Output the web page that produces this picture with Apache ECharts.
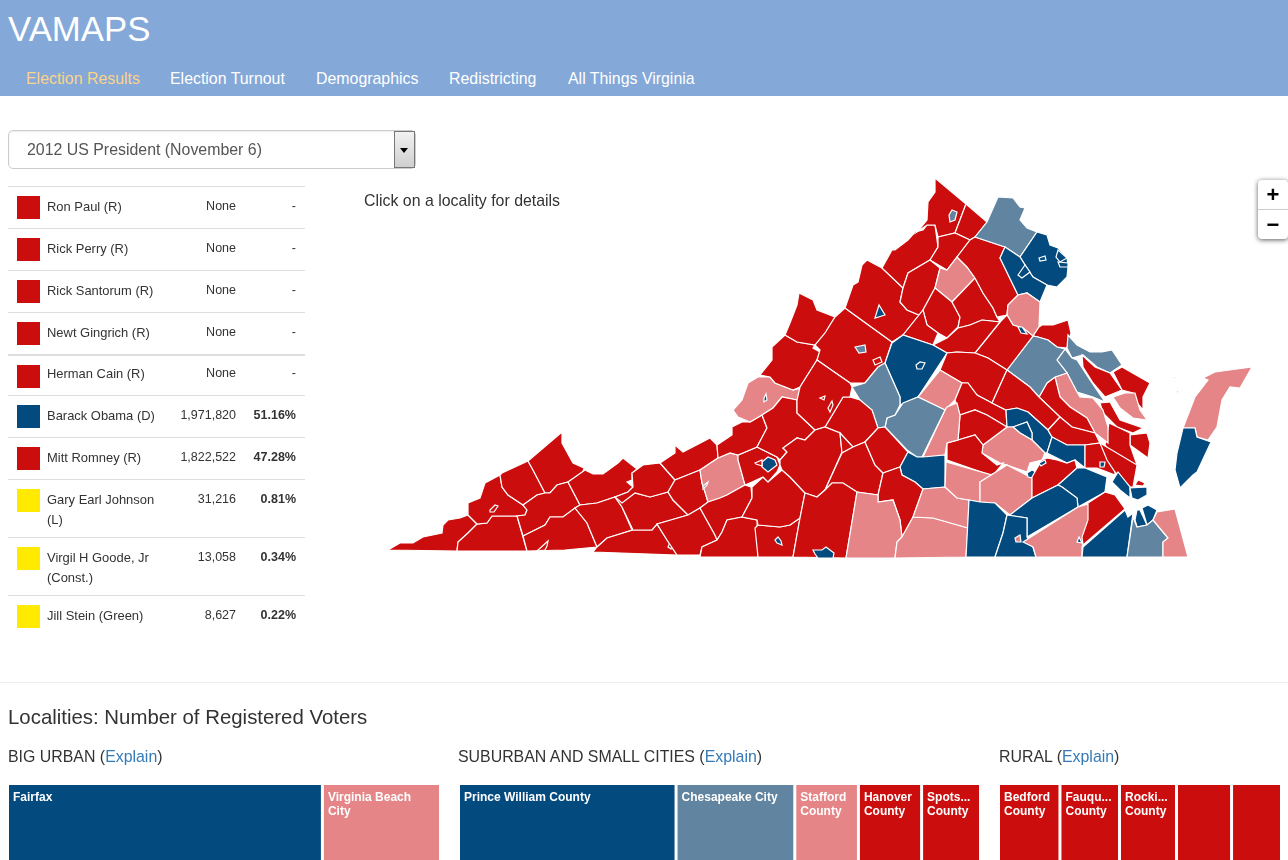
<!DOCTYPE html>
<html>
<head>
<meta charset="utf-8">
<title>VAMAPS</title>
<script src="https://cdn.jsdelivr.net/npm/echarts@6/dist/echarts.min.js"></script>
<style>
  * { box-sizing: border-box; }
  html, body { margin: 0; padding: 0; width: 1288px; height: 860px; overflow: hidden; background: #fff;
    font-family: "Liberation Sans", Arial, sans-serif; color: #333; }
  #chart { position: absolute; left: 0; top: 0; width: 1288px; height: 860px; }
  .abs { position: absolute; white-space: nowrap; }
  #header { position: absolute; left: 0; top: 0; width: 1288px; height: 96px; background: #84a8d8; }
  #title { left: 8px; top: 8px; font-size: 34.8px; line-height: 42px; color: #fff; }
  .nav { top: 69px; font-size: 15.9px; line-height: 20px; color: #fff; }
  .nav.active { color: #fbd38a; }
  #select { position: absolute; left: 8px; top: 130px; width: 408px; height: 39px; border: 1px solid #ccc; border-radius: 5px;
    font-size: 15.9px; line-height: 37px; padding-left: 18px; color: #555; box-shadow: inset 0 1px 2px rgba(0,0,0,.08); }
  #selectBtn { position: absolute; right: 0; top: 0; width: 21px; height: 37px; border: 1px solid #777;
    background: linear-gradient(#f2f2f2, #cfcfcf); }
  #selectBtn:after { content: ""; position: absolute; left: 5px; top: 16px; border: 4px solid transparent; border-top: 5px solid #000; border-bottom: 0; }
  #results { position: absolute; left: 8px; top: 186px; width: 297px; border-collapse: collapse; font-size: 12.95px; table-layout: fixed; }
  #results td { border-top: 1px solid #ddd; padding: 10px 0 0 0; vertical-align: top; line-height: 19.5px; color: #333; }
  #results tr.thick td { border-top: 2px solid #ddd; padding-top: 8px; }
  .swatch { display: block; width: 23px; height: 23px; margin: 0 0 0 9px; }
  td.votes { text-align: right; padding-right: 1px !important; font-size: 12.5px; }
  td.pct { text-align: right; font-weight: bold; padding-right: 9px !important; font-size: 12.5px; }
  #zoomCtl { position: absolute; left: 1258px; top: 180px; width: 30px; height: 59px; background: #fff; border-radius: 4px;
    box-shadow: 0 1px 5px rgba(0,0,0,.65); text-align: center; font-weight: bold; color: #000; font-size: 22px; line-height: 29px; }
  #zoomCtl div + div { border-top: 1px solid #ccc; }
  #rule { position: absolute; left: 0; top: 682px; width: 1288px; height: 1px; background: #eee; }
  a { color: #337ab7; text-decoration: none; }
</style>
</head>
<body>
<div id="chart"></div>
<div id="header"></div>
<div id="nav"></div>
<div id="select">2012 US President (November 6)<div id="selectBtn"></div></div>
<table id="results"></table>
<div class="abs" style="left:364px;top:191px;font-size:15.9px;line-height:20px;">Click on a locality for details</div>
<div id="zoomCtl"><div>+</div><div>−</div></div>
<div id="rule"></div>
<div class="abs" style="left:8px;top:705px;font-size:20.4px;line-height:24px;">Localities: Number of Registered Voters</div>
<div id="groupHeads"></div>

<script>
const pageTitle = 'VAMAPS';
const navItems = ['Election Results', 'Election Turnout', 'Demographics', 'Redistricting', 'All Things Virginia'];

// statewide results
const candidates = ['Ron Paul (R)', 'Rick Perry (R)', 'Rick Santorum (R)', 'Newt Gingrich (R)', 'Herman Cain (R)',
  'Barack Obama (D)', 'Mitt Romney (R)', 'Gary Earl Johnson (L)', 'Virgil H Goode, Jr (Const.)', 'Jill Stein (Green)'];
const candidateParty = ['R', 'R', 'R', 'R', 'R', 'D', 'R', 'O', 'O', 'O'];
const candidateVotes = ['None', 'None', 'None', 'None', 'None', '1,971,820', '1,822,522', '31,216', '13,058', '8,627'];
const candidatePct = ['-', '-', '-', '-', '-', '51.16%', '47.28%', '0.81%', '0.34%', '0.22%'];

// treemaps: registered voters by locality (estimated from tile widths)
const groupTitles = ['BIG URBAN', 'SUBURBAN AND SMALL CITIES', 'RURAL'];
const urbanNames = ['Fairfax', 'Virginia Beach City'];
const urbanLabels = ['Fairfax', 'Virginia Beach\nCity'];
const urbanVoters = [672000, 252000];
const urbanLean = ['D', 'r'];
const suburbNames = ['Prince William County', 'Chesapeake City', 'Stafford County', 'Hanover County', 'Spotsylvania County'];
const suburbLabels = ['Prince William County', 'Chesapeake City', 'Stafford\nCounty', 'Hanover\nCounty', 'Spots...\nCounty'];
const suburbVoters = [229000, 125000, 67000, 66500, 62000];
const suburbLean = ['D', 'd', 'r', 'R', 'R'];
const ruralNames = ['Bedford County', 'Fauquier County', 'Rockingham County', 'Augusta County', 'Frederick County'];
const ruralLabels = ['Bedford\nCounty', 'Fauqu...\nCounty', 'Rocki...\nCounty', '', ''];
const ruralVoters = [48000, 46500, 44500, 43000, 39000];
const ruralLean = ['R', 'R', 'R', 'R', 'R'];

// 2012 winner and margin of each locality
const strongRepublican = ['Lee', 'Scott', 'Wise', 'Norton', 'Dickenson', 'Buchanan', 'Russell', 'Washington', 'Bristol', 'Tazewell', 'Smyth',
  'Grayson', 'Galax', 'Wythe', 'Bland', 'Giles', 'Pulaski', 'Carroll', 'Floyd', 'Patrick', 'Henry', 'Franklin', 'Roanoke County', 'Salem',
  'Craig', 'Botetourt', 'Bath', 'Highland', 'Augusta', 'Waynesboro', 'Rockingham', 'Shenandoah', 'Frederick', 'Clarke', 'Warren', 'Page',
  'Madison', 'Culpeper', 'Fauquier', 'King George', 'Richmond County', 'Northumberland', 'Middlesex', 'Mathews', 'Gloucester',
  'King William', 'Spotsylvania', 'Orange', 'Greene', 'Louisa', 'Goochland', 'Hanover', 'New Kent', 'James City', 'York', 'Poquoson',
  'Powhatan', 'Amelia', 'Amherst', 'Rockbridge', 'Buena Vista', 'Lexington', 'Bedford', 'Lynchburg', 'Campbell', 'Appomattox', 'Charlotte',
  'Pittsylvania', 'Prince George', 'Isle of Wight'];
const leanRepublican = ['Montgomery', 'Alleghany', 'Rappahannock', 'Stafford', 'Lancaster', 'King and Queen', 'Chesterfield', 'Cumberland',
  'Fluvanna', 'Halifax', 'Mecklenburg', 'Lunenburg', 'Nottoway', 'Dinwiddie', 'Emporia', 'Southampton', 'Virginia Beach', 'Accomack', 'Tangier', 'Saxis'];
const leanDemocrat = ['Radford', 'Staunton', 'Winchester', 'Loudoun', 'Westmoreland', 'Essex', 'Caroline', 'Buckingham', 'Nelson', 'Chesapeake'];
const strongDemocrat = ['Roanoke City', 'Covington', 'Martinsville', 'Danville', 'Harrisonburg', 'Fairfax', 'Prince William', 'Manassas', 'Fairfax City',
  'Arlington', 'Alexandria', 'Fredericksburg', 'Albemarle', 'Charlottesville', 'Henrico', 'Richmond City', 'Charles City', 'Williamsburg',
  'Newport News', 'Hampton', 'Petersburg', 'Colonial Heights', 'Prince Edward', 'Surry', 'Sussex', 'Brunswick', 'Greensville', 'Franklin City',
  'Suffolk', 'Portsmouth', 'Norfolk', 'Northampton'];

// locality outlines, in map units; cities listed after the county that surrounds them
const localityOutlines = {
  'Lee': [[388,550],[400,543],[413,543],[423,537],[442,533],[443,525],[448,520],[460,518],[468,515],[477,524],[468,533],[458,542],[457,551]],
  'Scott': [[457,551],[458,542],[468,533],[477,524],[487,523],[492,516],[517,516],[527,551]],
  'Wise': [[468,515],[468,503],[480,498],[485,483],[500,475],[502,487],[508,495],[523,505],[527,510],[525,515],[517,516],[492,516],[487,523],[477,524]],
  'Norton': [[490,510],[495,505],[498,506],[494,512],[490,512]],
  'Dickenson': [[500,475],[502,473],[528,461],[533,470],[545,493],[537,495],[523,505],[508,495],[502,487]],
  'Buchanan': [[528,461],[562,432],[563,433],[562,443],[573,463],[584,468],[583,472],[568,482],[557,485],[550,493],[545,493],[533,470]],
  'Russell': [[523,505],[537,495],[545,493],[550,493],[557,485],[568,482],[580,505],[575,508],[563,517],[550,517],[545,525],[523,536],[517,516],[525,515],[527,510]],
  'Washington': [[523,536],[545,525],[550,517],[563,517],[575,508],[587,523],[597,547],[565,550],[527,551]],
  'Bristol': [[537,551],[548,541],[547,546],[545,550]],
  'Tazewell': [[568,482],[585,470],[593,474],[603,474],[618,463],[623,458],[637,469],[632,473],[632,480],[627,482],[633,487],[628,492],[615,497],[597,503],[580,505]],
  'Smyth': [[575,508],[580,505],[597,503],[615,497],[622,507],[632,530],[607,538],[597,547],[587,523]],
  'Grayson': [[593,552],[597,547],[607,538],[633,530],[652,530],[657,524],[667,540],[677,555]],
  'Galax': [[668,547],[671,540],[673,541],[671,549]],
  'Wythe': [[615,497],[635,493],[650,497],[668,492],[673,500],[688,515],[657,524],[652,530],[633,530],[622,507]],
  'Bland': [[633,487],[632,473],[643,465],[660,463],[675,480],[668,492],[650,497],[635,493],[622,503],[615,497],[628,492]],
  'Giles': [[660,463],[675,453],[675,445],[683,452],[710,438],[717,445],[718,458],[700,470],[675,480]],
  'Pulaski': [[668,492],[675,480],[700,470],[702,483],[705,492],[708,502],[700,508],[688,515],[673,500]],
  'Montgomery': [[700,470],[718,458],[730,453],[738,455],[738,460],[745,485],[727,495],[720,498],[708,502],[705,492],[702,483]],
  'Radford': [[703,486],[708,482],[707,485],[703,489]],
  'Carroll': [[688,515],[700,508],[715,535],[717,540],[702,547],[700,555],[677,555],[667,540],[657,524]],
  'Floyd': [[700,508],[708,502],[720,498],[727,495],[745,485],[751,487],[752,498],[742,517],[727,520],[722,532],[717,540],[715,535]],
  'Patrick': [[700,557],[702,547],[717,540],[722,532],[727,520],[742,517],[757,520],[758,557]],
  'Henry': [[758,557],[755,528],[758,525],[780,527],[790,525],[800,518],[793,557]],
  'Martinsville': [[775,540],[778,537],[781,541],[782,545],[777,543]],
  'Franklin': [[752,487],[763,477],[768,482],[782,470],[790,477],[805,493],[800,518],[790,525],[780,527],[758,525],[757,520],[742,517],[752,498]],
  'Roanoke County': [[738,455],[757,447],[777,457],[780,465],[777,472],[768,482],[763,477],[752,482],[745,485],[738,460]],
  'Roanoke City': [[762,462],[768,457],[775,460],[777,465],[768,472],[762,467]],
  'Salem': [[755,463],[762,460],[762,466],[756,464]],
  'Craig': [[717,445],[732,435],[732,427],[742,422],[750,422],[762,415],[767,428],[757,447],[738,455],[730,453],[718,458]],
  'Alleghany': [[733,410],[742,400],[748,383],[758,377],[770,377],[775,383],[793,390],[803,388],[797,400],[782,397],[773,408],[762,415],[750,422],[738,417]],
  'Covington': [[764,398],[766,394],[767,400],[764,402]],
  'Botetourt': [[762,415],[773,408],[782,397],[797,400],[797,413],[815,430],[805,440],[797,438],[783,448],[787,452],[780,460],[777,457],[757,447],[767,428]],
  'Bath': [[760,375],[772,360],[772,347],[785,335],[797,342],[815,345],[813,348],[820,352],[817,360],[800,387],[793,390],[775,383],[770,377]],
  'Highland': [[785,335],[790,323],[797,305],[799,293],[813,300],[817,310],[835,317],[827,330],[825,338],[815,345],[797,342]],
  'Augusta': [[845,308],[892,342],[885,363],[878,367],[865,383],[850,383],[817,360],[820,350],[815,345],[825,333],[835,317]],
  'Staunton': [[855,347],[865,345],[866,352],[859,353]],
  'Waynesboro': [[873,360],[880,357],[882,362],[875,365]],
  'Rockingham': [[845,308],[853,285],[858,282],[862,265],[867,260],[882,268],[903,288],[900,302],[907,310],[919,315],[903,335],[892,342]],
  'Harrisonburg': [[875,318],[879,305],[885,315]],
  'Shenandoah': [[882,268],[892,250],[895,250],[908,240],[915,232],[923,230],[927,225],[935,225],[938,247],[930,260],[908,273],[903,288]],
  'Frederick': [[917,232],[927,220],[928,202],[935,192],[935,178],[966,204],[955,233],[938,237],[935,225],[927,225]],
  'Winchester': [[949,215],[952,210],[957,212],[955,220],[950,222]],
  'Clarke': [[966,204],[987,222],[975,237],[970,240],[955,233]],
  'Warren': [[938,237],[955,233],[970,240],[957,257],[947,270],[930,260],[938,247]],
  'Page': [[908,273],[930,260],[940,268],[935,288],[923,310],[919,315],[907,310],[900,302],[903,288]],
  'Rappahannock': [[940,268],[947,270],[957,257],[967,267],[975,278],[952,302],[935,288]],
  'Madison': [[923,310],[935,288],[952,302],[960,317],[958,327],[947,338],[938,333],[927,325]],
  'Culpeper': [[952,302],[975,278],[983,293],[993,308],[997,317],[1000,322],[982,320],[970,325],[958,328],[960,317]],
  'Fauquier': [[957,257],[970,240],[975,237],[1005,247],[1000,258],[1018,295],[1008,305],[1007,315],[997,317],[993,308],[983,293],[975,278],[967,267]],
  'Loudoun': [[975,237],[987,222],[998,197],[1013,198],[1020,207],[1025,208],[1020,220],[1027,228],[1037,232],[1020,257],[1005,247]],
  'Fairfax': [[1037,232],[1047,235],[1050,245],[1058,248],[1067,257],[1068,267],[1067,277],[1057,287],[1047,285],[1033,277],[1027,268],[1020,257]],
  'Prince William': [[1005,247],[1020,257],[1027,268],[1033,277],[1047,285],[1040,302],[1027,293],[1018,295],[1000,258]],
  'Manassas': [[1018,275],[1025,265],[1030,272],[1022,278]],
  'Fairfax City': [[1039,258],[1045,256],[1046,260],[1040,261]],
  'Arlington': [[1058,250],[1067,258],[1060,262],[1056,257]],
  'Alexandria': [[1058,262],[1068,263],[1068,267],[1060,267]],
  'Stafford': [[1018,295],[1027,293],[1040,302],[1039,327],[1033,336],[1023,328],[1013,325],[1007,315],[1008,305]],
  'King George': [[1033,336],[1039,327],[1042,325],[1053,325],[1068,320],[1071,333],[1067,348],[1057,347],[1048,340],[1038,337]],
  'Westmoreland': [[1068,335],[1077,345],[1090,352],[1102,352],[1112,350],[1122,365],[1110,373],[1097,367],[1083,355],[1072,358],[1067,348]],
  'Richmond County': [[1082,355],[1095,367],[1110,373],[1122,390],[1105,397],[1093,383],[1083,367]],
  'Northumberland': [[1113,372],[1122,367],[1150,383],[1143,397],[1143,410],[1137,403],[1133,393],[1122,390]],
  'Lancaster': [[1113,397],[1125,393],[1135,393],[1140,410],[1147,420],[1133,418],[1120,408]],
  'Middlesex': [[1100,403],[1110,402],[1120,420],[1143,428],[1133,433],[1117,427],[1103,413]],
  'Mathews': [[1130,435],[1147,433],[1150,443],[1148,458],[1130,445]],
  'Gloucester': [[1109,423],[1130,433],[1130,445],[1137,465],[1123,467],[1105,445]],
  'Essex': [[1057,360],[1065,349],[1072,358],[1077,360],[1090,380],[1105,402],[1093,397],[1077,392],[1067,373]],
  'King and Queen': [[1055,377],[1067,373],[1077,392],[1080,397],[1093,398],[1103,410],[1108,427],[1108,443],[1095,433],[1087,418],[1070,407],[1060,397]],
  'King William': [[1039,397],[1047,383],[1055,377],[1060,397],[1070,407],[1087,418],[1095,433],[1072,427],[1060,417]],
  'Caroline': [[1007,370],[1033,336],[1038,337],[1048,340],[1057,347],[1065,349],[1057,360],[1067,373],[1055,377],[1047,383],[1039,397],[1030,387]],
  'Spotsylvania': [[975,353],[1000,322],[1007,315],[1013,325],[1023,328],[1033,336],[1007,370],[988,358]],
  'Fredericksburg': [[1018,327],[1022,327],[1027,334],[1021,333]],
  'Orange': [[933,345],[947,338],[958,328],[970,325],[982,320],[1000,322],[975,353],[957,352],[947,353]],
  'Greene': [[903,335],[919,315],[923,310],[927,325],[938,333],[933,345]],
  'Albemarle': [[885,363],[892,343],[903,335],[933,345],[947,353],[918,397],[900,405],[900,397]],
  'Charlottesville': [[916,365],[920,362],[925,363],[922,369],[917,369]],
  'Louisa': [[940,370],[947,353],[957,352],[975,353],[988,358],[1007,370],[992,403],[977,395],[968,383],[962,383]],
  'Fluvanna': [[918,397],[940,370],[962,383],[955,400],[945,410]],
  'Goochland': [[955,400],[962,383],[968,383],[977,395],[992,403],[1006,410],[1007,427],[987,415],[975,410],[960,415]],
  'Hanover': [[992,403],[1007,370],[1030,387],[1039,397],[1060,417],[1048,430],[1028,412],[1017,408],[1006,410]],
  'Henrico': [[1006,410],[1017,408],[1028,412],[1048,430],[1052,437],[1047,453],[1045,453],[1032,440],[1032,433],[1027,422],[1013,427],[1007,427]],
  'Richmond City': [[1013,427],[1027,422],[1032,433],[1032,440],[1020,433]],
  'New Kent': [[1048,430],[1060,417],[1072,427],[1095,433],[1100,443],[1085,445],[1067,445],[1052,437]],
  'Charles City': [[1047,453],[1052,437],[1067,445],[1085,445],[1085,468],[1075,460],[1067,463],[1057,458]],
  'James City': [[1085,445],[1100,443],[1115,470],[1115,475],[1097,468],[1085,468]],
  'York': [[1100,443],[1137,465],[1133,487],[1130,487],[1115,472],[1107,460]],
  'Williamsburg': [[1100,462],[1105,462],[1104,467],[1100,467]],
  'Newport News': [[1112,482],[1118,472],[1130,487],[1130,498],[1120,490]],
  'Hampton': [[1130,488],[1147,487],[1147,495],[1138,500],[1132,498]],
  'Poquoson': [[1135,485],[1138,480],[1145,483],[1143,486]],
  'Chesterfield': [[983,445],[1007,427],[1013,427],[1020,433],[1032,440],[1045,453],[1042,460],[1030,463],[1027,472],[1007,465],[1000,463],[982,453]],
  'Powhatan': [[960,415],[975,410],[987,415],[1007,427],[983,445],[975,435],[958,440]],
  'Amelia': [[947,460],[947,443],[958,440],[975,435],[983,445],[982,453],[997,465],[1003,463],[995,473],[990,475]],
  'Cumberland': [[923,457],[945,410],[947,407],[957,403],[960,415],[958,440],[947,443],[945,455],[933,460]],
  'Buckingham': [[885,427],[887,418],[895,415],[903,403],[918,397],[945,410],[922,457],[917,457],[907,450]],
  'Nelson': [[852,387],[865,383],[878,367],[885,363],[900,397],[900,405],[895,415],[887,418],[885,427],[878,428],[872,410],[860,400]],
  'Amherst': [[825,427],[843,397],[850,397],[860,400],[872,410],[878,428],[865,442],[853,447],[840,433]],
  'Rockbridge': [[817,360],[850,383],[852,387],[850,397],[843,397],[825,427],[815,430],[797,413],[797,400],[800,387]],
  'Buena Vista': [[820,398],[825,396],[824,400]],
  'Lexington': [[828,408],[832,401],[833,405],[830,412]],
  'Bedford': [[805,440],[815,430],[825,427],[840,433],[842,452],[825,490],[817,497],[805,493],[790,477],[782,470],[780,465],[780,460],[787,452],[783,448],[797,438]],
  'Lynchburg': [[840,433],[853,447],[842,453]],
  'Campbell': [[842,453],[853,447],[865,442],[875,465],[883,473],[878,495],[857,492],[843,483],[832,483],[825,490]],
  'Appomattox': [[865,442],[878,428],[885,427],[908,452],[900,467],[883,473],[875,465]],
  'Prince Edward': [[908,452],[917,457],[923,457],[945,455],[945,487],[923,489],[915,482],[902,475],[900,467]],
  'Charlotte': [[883,473],[900,467],[902,475],[915,482],[923,489],[913,517],[902,537],[900,520],[893,500],[878,502],[878,495]],
  'Pittsylvania': [[805,493],[817,497],[825,490],[832,483],[843,483],[857,492],[846,558],[793,557],[800,518]],
  'Danville': [[813,550],[822,550],[826,547],[830,550],[834,553],[833,558],[818,558],[815,554]],
  'Halifax': [[857,492],[878,495],[878,502],[893,500],[900,520],[902,537],[897,542],[895,558],[846,558]],
  'Mecklenburg': [[913,517],[933,518],[968,528],[966,557],[895,558],[897,542],[902,537]],
  'Lunenburg': [[923,489],[945,487],[957,498],[969,500],[968,528],[933,518],[913,517]],
  'Nottoway': [[946,462],[992,475],[980,482],[980,502],[969,500],[957,498],[945,487]],
  'Dinwiddie': [[980,482],[1007,465],[1032,478],[1032,498],[1010,515],[995,503],[980,502]],
  'Petersburg': [[1027,473],[1032,470],[1038,473],[1033,478],[1028,477]],
  'Prince George': [[1032,477],[1036,470],[1042,460],[1047,458],[1057,460],[1067,463],[1075,460],[1077,468],[1058,485],[1032,498]],
  'Colonial Heights': [[1039,463],[1045,460],[1046,463],[1041,466]],
  'Surry': [[1058,485],[1077,468],[1085,468],[1107,477],[1105,492],[1078,507],[1077,498],[1062,487]],
  'Sussex': [[1007,515],[1010,515],[1032,498],[1058,485],[1062,487],[1077,498],[1078,507],[1027,537],[1027,518]],
  'Brunswick': [[969,500],[980,502],[995,503],[1007,515],[1003,533],[995,557],[966,557]],
  'Greensville': [[1007,515],[1027,518],[1027,537],[1033,547],[1036,557],[995,557],[1003,533]],
  'Emporia': [[1015,538],[1020,535],[1021,542],[1016,542]],
  'Southampton': [[1023,542],[1078,507],[1092,503],[1092,520],[1082,547],[1082,557],[1036,557],[1033,547]],
  'Franklin City': [[1077,542],[1079,537],[1082,543]],
  'Isle of Wight': [[1088,503],[1105,492],[1115,495],[1125,509],[1083,545],[1082,537],[1088,520]],
  'Suffolk': [[1083,547],[1125,510],[1128,517],[1133,513],[1127,557],[1082,557]],
  'Portsmouth': [[1137,510],[1140,510],[1147,525],[1137,527],[1135,520]],
  'Norfolk': [[1142,508],[1148,505],[1157,510],[1153,520],[1147,525]],
  'Chesapeake': [[1133,517],[1137,527],[1147,525],[1153,520],[1168,538],[1163,542],[1163,557],[1127,557]],
  'Virginia Beach': [[1153,520],[1157,512],[1175,509],[1188,557],[1163,557],[1163,542],[1168,538]],
  'Accomack': [[1183,428],[1195,397],[1208,380],[1203,378],[1215,372],[1252,367],[1240,388],[1230,387],[1222,400],[1217,427],[1208,440],[1197,437],[1195,428]],
  'Tangier': [[1172,377],[1176,377],[1175,379]],
  'Saxis': [[1176,391],[1179,391],[1178,394]],
  'Northampton': [[1183,428],[1195,428],[1197,437],[1211,442],[1197,472],[1193,475],[1183,485],[1180,488],[1175,470],[1177,453]]
};

const COLORS = { R: '#cc0d0d', r: '#e58587', d: '#6184a0', D: '#034a7f', O: '#ffea00' };

// ---- page chrome ----
document.getElementById('header').innerHTML = `<div class="abs" id="title">${pageTitle}</div>`;
const navLeft = [26, 170, 316, 449, 568];
document.getElementById('nav').innerHTML = navItems.map((t, i) =>
  `<div class="abs nav${i === 0 ? ' active' : ''}" style="left:${navLeft[i]}px">${t}</div>`).join('');

const rowHeights = [42, 42, 42, 42, 41, 42, 42, 58, 58, 42];
document.getElementById('results').innerHTML =
  '<colgroup><col style="width:39px"><col style="width:120px"><col style="width:70px"><col style="width:68px"></colgroup>' +
  candidates.map((c, i) => `<tr class="${i === 4 ? 'thick' : ''}" style="height:${rowHeights[i]}px">
    <td style="padding-top:9px"><span class="swatch" style="background:${COLORS[candidateParty[i]]}"></span></td>
    <td>${c}</td><td class="votes">${candidateVotes[i]}</td><td class="pct" style="${i < 5 ? 'font-weight:normal' : ''}">${candidatePct[i]}</td></tr>`).join('');

const groupLeft = [8, 458, 999];
document.getElementById('groupHeads').innerHTML = groupTitles.map((t, i) =>
  `<div class="abs" style="left:${groupLeft[i]}px;top:747px;font-size:15.9px;line-height:20px;">${t} (<a>Explain</a>)</div>`).join('');

// ---- chart ----
const features = Object.keys(localityOutlines).map(name => ({
  type: 'Feature',
  properties: { name: name },
  geometry: { type: 'Polygon', coordinates: [localityOutlines[name]] }
}));
echarts.registerMap('virginia', { type: 'FeatureCollection', features: features });

const chart = echarts.init(document.getElementById('chart'), null, { renderer: 'canvas' });

const mapData = [];
[[strongRepublican, 'R'], [leanRepublican, 'r'], [leanDemocrat, 'd'], [strongDemocrat, 'D']].forEach(([names, key]) => {
  names.forEach(n => mapData.push({ name: n, value: 1, itemStyle: { areaColor: COLORS[key] } }));
});

function treemapSeries(left, width, names, labels, voters, lean) {
  return {
    type: 'treemap',
    left: left, top: 785, width: width, height: 75,
    roam: false, nodeClick: false, silent: true,
    squareRatio: 0.5,
    breadcrumb: { show: false },
    itemStyle: { borderWidth: 0, gapWidth: 3, borderColor: '#fff' },
    levels: [{ itemStyle: { borderWidth: 0, gapWidth: 3 } }],
    label: {
      show: true, position: [-1, 1], color: '#fff', fontSize: 12, fontWeight: 'bold',
      fontFamily: 'Liberation Sans', lineHeight: 14, overflow: 'none'
    },
    data: names.map((n, i) => ({
      name: n,
      value: voters[i],
      itemStyle: { color: COLORS[lean[i]] },
      label: { formatter: () => labels[i], show: labels[i] !== '' }
    }))
  };
}

chart.setOption({
  animation: false,
  series: [
    {
      type: 'map',
      map: 'virginia',
      silent: true,
      roam: false,
      aspectScale: 1,
      projection: { project: p => p, unproject: p => p },
      left: 388, top: 178, width: 864, height: 380,
      label: { show: false },
      itemStyle: { borderColor: '#fff', borderWidth: 1.2, areaColor: COLORS.R },
      data: mapData
    },
    treemapSeries(9, 430, urbanNames, urbanLabels, urbanVoters, urbanLean),
    treemapSeries(460, 519, suburbNames, suburbLabels, suburbVoters, suburbLean),
    treemapSeries(1000, 280, ruralNames, ruralLabels, ruralVoters, ruralLean)
  ]
});

window.addEventListener('resize', () => chart.resize());
</script>
</body>
</html>
